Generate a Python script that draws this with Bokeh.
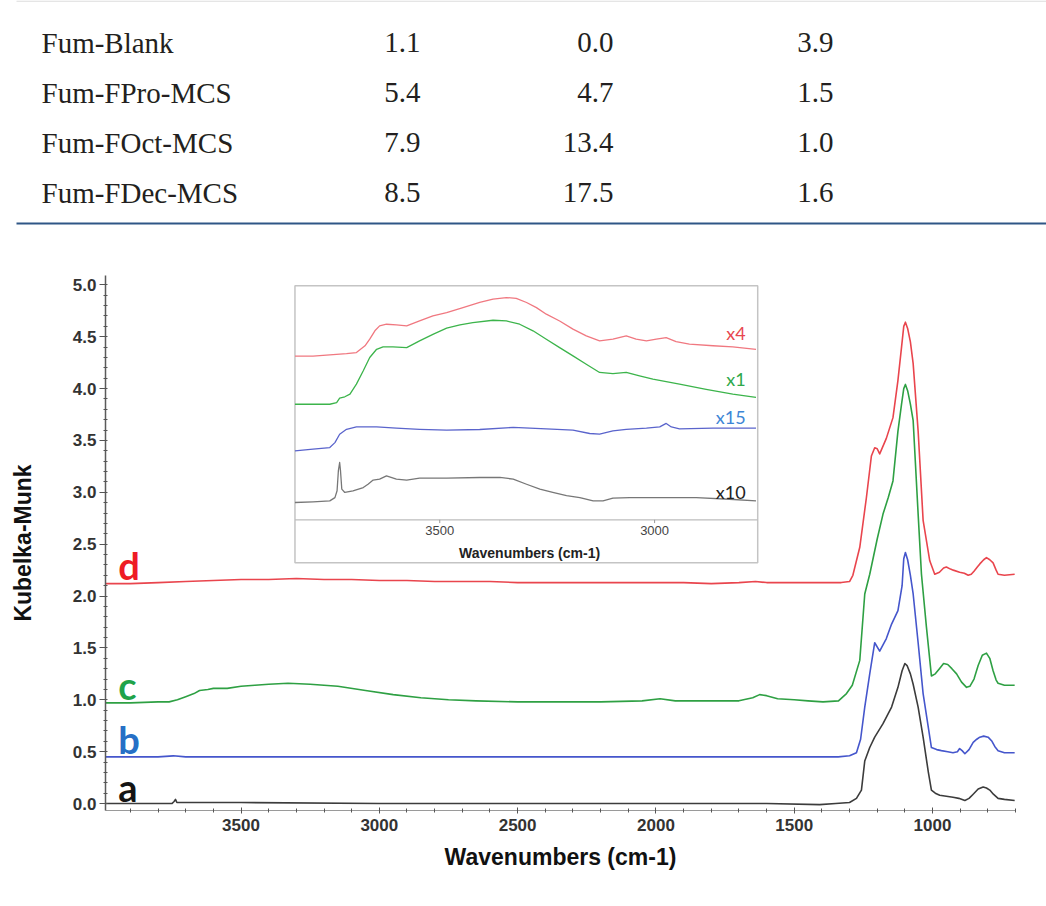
from bokeh.plotting import figure
from bokeh.layouts import column
from bokeh.models import Range1d, SingleIntervalTicker, NumeralTickFormatter
from bokeh.embed import file_html
from bokeh.resources import INLINE
from bokeh.core.properties import value

# ---- table rows -------------------------------------------------------------
samples = ["Fum-Blank", "Fum-FPro-MCS", "Fum-FOct-MCS", "Fum-FDec-MCS"]
col1 = [1.1, 5.4, 7.9, 8.5]
col2 = [0.0, 4.7, 13.4, 17.5]
col3 = [3.9, 1.5, 1.0, 1.6]

# ---- DRIFT spectra (Kubelka-Munk, offset traces) ----------------------------
wn_d = [3990, 3900, 3800, 3700, 3600, 3500, 3400, 3300, 3200, 3100, 3000, 2900,
        2800, 2700, 2600, 2500, 2400, 2300, 2200, 2100, 2000, 1900, 1800, 1700,
        1640, 1600, 1500, 1400, 1330, 1300, 1288, 1263, 1239, 1221, 1209, 1200,
        1191, 1167, 1143, 1125, 1112, 1104, 1098, 1090, 1080, 1070, 1052, 1034,
        1010, 992, 975, 960, 950, 935, 925, 902, 885, 871, 860, 850,
        838, 829, 815, 805, 793, 781, 770, 763, 740, 703]
km_d = [2.12, 2.12, 2.13, 2.14, 2.15, 2.16, 2.16, 2.17, 2.16, 2.16, 2.15, 2.15,
        2.14, 2.14, 2.14, 2.13, 2.13, 2.13, 2.13, 2.13, 2.13, 2.13, 2.12, 2.13,
        2.14, 2.13, 2.13, 2.13, 2.13, 2.14, 2.20, 2.47, 2.95, 3.35, 3.43, 3.42,
        3.37, 3.52, 3.72, 4.08, 4.40, 4.60, 4.64, 4.58, 4.45, 4.24, 3.59, 2.73,
        2.34, 2.21, 2.23, 2.27, 2.28, 2.26, 2.25, 2.23, 2.22, 2.20, 2.21, 2.24,
        2.28, 2.31, 2.35, 2.37, 2.35, 2.32, 2.25, 2.21, 2.20, 2.21]

wn_c = [3990, 3900, 3800, 3760, 3730, 3700, 3670, 3650, 3620, 3600, 3550, 3500,
        3450, 3400, 3330, 3250, 3150, 3050, 2950, 2850, 2750, 2650, 2500, 2350,
        2200, 2050, 1985, 1930, 1800, 1700, 1650, 1625, 1600, 1560, 1500, 1450,
        1396, 1340, 1311, 1290, 1263, 1245, 1227, 1200, 1179, 1160, 1143, 1125,
        1112, 1104, 1098, 1090, 1080, 1070, 1052, 1040, 1022, 1004, 990, 975,
        960, 945, 930, 913, 895, 877, 865, 850, 835, 820, 805, 793,
        781, 770, 763, 740, 703]
km_c = [0.97, 0.97, 0.98, 0.98, 1.00, 1.03, 1.06, 1.09, 1.10, 1.11, 1.11, 1.13,
        1.14, 1.15, 1.16, 1.15, 1.13, 1.09, 1.05, 1.02, 1.00, 0.99, 0.98, 0.98,
        0.98, 0.99, 1.01, 0.99, 0.99, 0.99, 1.02, 1.05, 1.04, 1.01, 1.00, 0.99,
        0.98, 0.99, 1.06, 1.14, 1.38, 2.02, 2.21, 2.55, 2.79, 2.95, 3.11, 3.59,
        3.85, 4.00, 4.04, 3.98, 3.85, 3.69, 2.79, 2.21, 1.70, 1.23, 1.25, 1.30,
        1.35, 1.34, 1.30, 1.25, 1.17, 1.12, 1.13, 1.20, 1.33, 1.43, 1.45, 1.40,
        1.28, 1.19, 1.16, 1.14, 1.14]

wn_b = [3990, 3800, 3745, 3700, 3500, 3000, 2500, 2000, 1500, 1400, 1341, 1300,
        1275, 1260, 1245, 1227, 1209, 1191, 1167, 1148, 1125, 1110, 1104, 1098,
        1090, 1080, 1070, 1052, 1034, 1004, 985, 968, 945, 926, 910, 902,
        893, 883, 868, 853, 840, 829, 815, 799, 785, 775, 763, 740, 703]
km_b = [0.45, 0.45, 0.46, 0.45, 0.45, 0.45, 0.45, 0.45, 0.45, 0.45, 0.45, 0.46,
        0.49, 0.62, 0.93, 1.25, 1.55, 1.47, 1.59, 1.73, 1.86, 2.10, 2.36, 2.42,
        2.35, 2.20, 2.02, 1.55, 1.06, 0.54, 0.52, 0.51, 0.50, 0.49, 0.50, 0.53,
        0.51, 0.48, 0.52, 0.59, 0.62, 0.64, 0.65, 0.64, 0.60, 0.55, 0.51, 0.49,
        0.49]

wn_a = [3990, 3800, 3750, 3742, 3737, 3732, 3700, 3500, 3000, 2500, 2000, 1600,
        1408, 1350, 1300, 1275, 1257, 1245, 1227, 1209, 1179, 1148, 1125, 1110,
        1100, 1092, 1080, 1070, 1052, 1034, 1015, 1004, 990, 974, 950, 926,
        905, 883, 868, 853, 835, 817, 805, 793, 780, 763, 740, 703]
km_a = [0.00, 0.00, 0.00, 0.02, 0.04, 0.01, 0.01, 0.01, 0.00, 0.00, 0.00, 0.00,
        -0.01, 0.00, 0.01, 0.05, 0.13, 0.41, 0.54, 0.64, 0.77, 0.93, 1.12, 1.28,
        1.35, 1.33, 1.25, 1.15, 0.93, 0.64, 0.30, 0.13, 0.10, 0.08, 0.07, 0.06,
        0.05, 0.03, 0.05, 0.09, 0.14, 0.16, 0.15, 0.13, 0.09, 0.05, 0.04, 0.03]

trace_names = ["a", "b", "c", "d"]

# ---- O-H / C-H region, scaled traces (arbitrary units) ----------------------
zoom_wn_d = [3837, 3795, 3756, 3717, 3694, 3674, 3663, 3651, 3640, 3624, 3601,
             3577, 3547, 3516, 3484, 3446, 3407, 3376, 3345, 3322, 3298, 3275,
             3252, 3221, 3190, 3159, 3128, 3097, 3066, 3043, 3019, 2996, 2973,
             2950, 2919, 2864, 2818, 2764]
zoom_d = [0.700, 0.700, 0.705, 0.710, 0.715, 0.744, 0.772, 0.808, 0.829, 0.836,
          0.833, 0.829, 0.850, 0.872, 0.886, 0.907, 0.929, 0.943, 0.950, 0.947,
          0.929, 0.907, 0.879, 0.850, 0.815, 0.786, 0.765, 0.772, 0.786, 0.772,
          0.765, 0.772, 0.779, 0.762, 0.751, 0.744, 0.739, 0.729]
zoom_wn_c = [3837, 3756, 3740, 3733, 3721, 3709, 3694, 3678, 3663, 3647, 3632,
             3609, 3577, 3547, 3516, 3484, 3453, 3423, 3376, 3345, 3314, 3283,
             3252, 3221, 3190, 3159, 3128, 3097, 3066, 3035, 3004, 2942, 2880,
             2818, 2764]
zoom_c = [0.494, 0.494, 0.501, 0.520, 0.526, 0.537, 0.580, 0.637, 0.694, 0.729,
          0.739, 0.739, 0.736, 0.765, 0.793, 0.819, 0.833, 0.843, 0.853, 0.850,
          0.836, 0.808, 0.772, 0.736, 0.701, 0.665, 0.630, 0.625, 0.630, 0.615,
          0.601, 0.580, 0.558, 0.537, 0.523]
zoom_wn_b = [3837, 3795, 3756, 3744, 3733, 3717, 3694, 3647, 3601, 3547, 3484,
             3407, 3329, 3252, 3190, 3151, 3128, 3097, 3066, 3019, 2988, 2973,
             2961, 2942, 2864, 2764]
zoom_b = [0.295, 0.302, 0.309, 0.330, 0.366, 0.387, 0.397, 0.397, 0.392, 0.387,
          0.383, 0.386, 0.395, 0.389, 0.383, 0.369, 0.366, 0.380, 0.387, 0.392,
          0.397, 0.412, 0.397, 0.389, 0.392, 0.392]
zoom_wn_a = [3837, 3795, 3756, 3744, 3739, 3736, 3733, 3731, 3728, 3721, 3702,
             3678, 3667, 3655, 3640, 3624, 3601, 3577, 3547, 3484, 3407, 3360,
             3329, 3298, 3267, 3237, 3205, 3174, 3143, 3120, 3097, 3058, 2981,
             2903, 2826, 2764]
zoom_a = [0.074, 0.077, 0.081, 0.095, 0.124, 0.209, 0.245, 0.209, 0.131, 0.117,
          0.124, 0.138, 0.152, 0.170, 0.174, 0.188, 0.174, 0.170, 0.178, 0.178,
          0.181, 0.181, 0.174, 0.152, 0.131, 0.117, 0.103, 0.095, 0.081, 0.081,
          0.093, 0.095, 0.095, 0.095, 0.088, 0.081]
zoom_factors = ["x10", "x15", "x1", "x4"]
zoom_ticks = [3500, 3000]

SANS = value("Liberation Sans")
SERIF = value("Liberation Serif")
ROUND = value("Lato")


def no_frame_align(fig):
    if "frame_align" in fig.properties():
        fig.frame_align = False


# ---------------------------------------------------------------- table -----
tbl = figure(width=1046, height=240, x_range=Range1d(0, 1046),
             y_range=Range1d(240, 0), x_axis_location=None,
             y_axis_location=None, output_backend="svg", toolbar_location=None,
             min_border=0)
no_frame_align(tbl)
tbl.grid.visible = False
tbl.outline_line_color = None
row_y = [42 + 50 * i for i in range(len(samples))]
common = dict(text_font=SERIF, text_font_size="29px",
              text_baseline="middle", text_color="#231f20")
tbl.text(x=[41] * len(samples), y=row_y, text=samples, text_align="left", **common)
for xpos, vals in [(420, col1), (613, col2), (833, col3)]:
    tbl.text(x=[xpos] * len(vals), y=row_y, text=[f"{v:.1f}" for v in vals],
             text_align="right", **common)
tbl.segment(x0=[16], y0=[0.6], x1=[1046], y1=[0.6], line_color="#dcdcdc",
            line_width=1.2)
tbl.segment(x0=[16], y0=[223], x1=[1046], y1=[223], line_color="#2f5686",
            line_width=2)

# ---------------------------------------------------------------- chart -----
p = figure(width=1046, height=666, x_range=Range1d(3990, 700),
           y_range=Range1d(-0.067, 5.09), output_backend="svg",
           toolbar_location=None, min_border_left=105, min_border_right=31,
           min_border_top=35, min_border_bottom=96)
no_frame_align(p)
p.grid.visible = False
p.outline_line_color = None

p.xaxis.ticker = SingleIntervalTicker(interval=500, num_minor_ticks=5)
p.yaxis.ticker = SingleIntervalTicker(interval=0.5, num_minor_ticks=5)
p.xaxis.formatter = NumeralTickFormatter(format="0")
p.yaxis.formatter = NumeralTickFormatter(format="0.0")
p.xaxis.axis_label = "Wavenumbers (cm-1)"
p.yaxis.axis_label = "Kubelka-Munk"
for ax in (p.xaxis[0], p.yaxis[0]):
    ax.major_label_text_font = "Liberation Sans"
    ax.major_label_text_font_style = "bold"
    ax.major_label_text_font_size = "17px"
    ax.major_label_text_color = "#333333"
    ax.axis_label_text_font = "Liberation Sans"
    ax.axis_label_text_font_style = "bold"
    ax.axis_label_text_font_size = "23px"
    ax.axis_label_text_color = "#111111"
    ax.major_tick_line_color = "#555555"
    ax.minor_tick_line_color = "#555555"
    ax.minor_tick_in = 2
    ax.minor_tick_out = 2
p.yaxis.axis_line_color = "#5a5a5a"
p.yaxis.axis_line_width = 1.5
p.yaxis.major_tick_in = 0
p.yaxis.major_tick_out = 6
p.yaxis.major_label_standoff = 3
p.yaxis.axis_label_standoff = 34
p.xaxis.axis_line_color = "#9a9a9a"
p.xaxis.major_tick_in = 3
p.xaxis.major_tick_out = 3
p.xaxis.major_label_standoff = 5
p.xaxis.axis_label_standoff = 10

traces = [(wn_a, km_a, "#3c3c3c"), (wn_b, km_b, "#4556cc"),
          (wn_c, km_c, "#2ea043"), (wn_d, km_d, "#e9454d")]
for wn, km, col in traces:
    p.line(wn, km, line_color=col, line_width=1.6, line_join="round")

# trace letters at the left end of each baseline
p.text(x=[3944] * 4, y=[0.16, 0.62, 1.14, 2.30], text=trace_names,
       text_color=["#141414", "#2670c6", "#1fa34a", "#ee1c25"],
       text_font=ROUND, text_font_style="bold", text_font_size="38px",
       text_baseline="middle", text_align="left")

# ---- expanded high-wavenumber panel drawn into a sub-region of the chart ----
ins = p.subplot(x_source=Range1d(3837, 2760), y_source=Range1d(-0.184, 1.0),
                x_target=Range1d(3305, 1632), y_target=Range1d(2.32, 4.99))
ins.quad(left=[3837], right=[2760], bottom=[-0.184], top=[1.0],
         fill_color="white", line_color="#c4c4c4", line_width=1.5)
ins.segment(x0=[3837], y0=[0], x1=[2760], y1=[0], line_color="#bdbdbd",
            line_width=1.2)
ins.segment(x0=zoom_ticks, y0=[0] * 2, x1=zoom_ticks, y1=[-0.014] * 2,
            line_color="#999999", line_width=1)
ins.text(x=zoom_ticks, y=[-0.047] * 2, text=[str(t) for t in zoom_ticks],
         text_font=SANS, text_font_size="13px", text_color="#444444",
         text_align="center", text_baseline="middle")
ins.text(x=[3291], y=[-0.141], text=["Wavenumbers (cm-1)"], text_font=SANS,
         text_font_style="bold", text_font_size="14px", text_color="#222222",
         text_align="center", text_baseline="middle")

zoom_traces = [(zoom_wn_a, zoom_a, "#777777"), (zoom_wn_b, zoom_b, "#5a64cc"),
               (zoom_wn_c, zoom_c, "#3cb44b"), (zoom_wn_d, zoom_d, "#f07880")]
for wn, km, col in zoom_traces:
    ins.line(wn, km, line_color=col, line_width=1.3, line_join="round")

ins.text(x=[2788] * 4, y=[0.12, 0.44, 0.60, 0.80], text=zoom_factors,
         text_color=["#222222", "#3d86d6", "#2ea84a", "#e8474f"],
         text_font=ROUND, text_font_size="18px", text_align="right",
         text_baseline="middle")

page = column(tbl, p, spacing=0)
open("out.html", "w").write(file_html(page, INLINE))
